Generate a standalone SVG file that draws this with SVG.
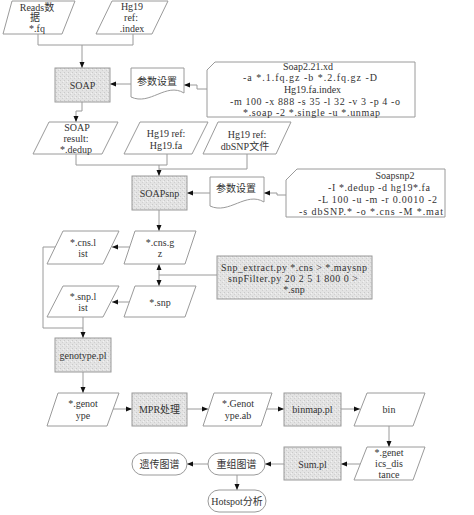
<svg xmlns="http://www.w3.org/2000/svg" width="474" height="515" viewBox="0 0 474 515">
<defs>
<style>
.s{fill:#fff;stroke:#9a9a9a;stroke-width:1}
.g{fill:url(#stip);stroke:#9a9a9a;stroke-width:1}
.c{fill:none;stroke:#9a9a9a;stroke-width:1}
.a{marker-end:url(#ah)}
text{font-family:"Liberation Serif","Noto Sans CJK SC",serif;font-size:10px;fill:#333;text-anchor:middle}
</style>
<pattern id="stip" width="4" height="4" patternUnits="userSpaceOnUse">
<rect width="4" height="4" fill="#e3e3e3"/>
<rect x="0" y="0" width="1" height="1" fill="#c9c9c9"/>
<rect x="2" y="2" width="1" height="1" fill="#cfcfcf"/>
<rect x="3" y="1" width="1" height="1" fill="#f2f2f2"/>
</pattern>
<marker id="ah" markerUnits="userSpaceOnUse" markerWidth="6" markerHeight="6" viewBox="0 0 6 6" refX="6" refY="3" orient="auto">
<path d="M0,0.5 L6,3 L0,5.5 Z" fill="#111"/>
</marker>
</defs>
<rect width="474" height="515" fill="#fff"/>

<g id="connectors">
<path class="c" d="M38,34 V45 H133 V34"/>
<path class="c a" d="M82,45 V68"/>
<path class="c a" d="M131,84 H110"/>
<path class="c a" d="M208,89 H197 V85 H184"/>
<path class="c a" d="M82,102 V111 H76 V122"/>
<path class="c" d="M76,154 V165 H167 V154"/>
<path class="c a" d="M159,165 V176"/>
<path class="c" d="M247,154 V169 H159"/>
<path class="c a" d="M210,193 H187"/>
<path class="c a" d="M286,195 H277 V193 H264"/>
<path class="c a" d="M159,210 V231"/>
<path class="c a" d="M130,247 H112"/>
<path class="c" d="M55,247 H43 V328 H83"/>
<path class="c a" d="M83,317 V338"/>
<path class="c" d="M217,275 H159"/>
<path class="c a" d="M159,275 V264"/>
<path class="c a" d="M159,275 V286"/>
<path class="c a" d="M129,302 H112"/>
<path class="c a" d="M83,372 V393"/>
<path class="c a" d="M113,409 H132"/>
<path class="c a" d="M187,409 H208"/>
<path class="c a" d="M267,409 H284"/>
<path class="c a" d="M341,409 H360"/>
<path class="c a" d="M389,426 V447"/>
<path class="c a" d="M360,464 H341"/>
<path class="c a" d="M284,464 H265"/>
<path class="c a" d="M208,464 H187"/>
<path class="c a" d="M237,475 V490"/>
</g>

<g id="reads">
<polygon class="s" points="12,1 75,1 62,34 3,34"/>
<text x="37" y="10.5">Reads数</text>
<text x="35" y="20.5">据</text>
<text x="37" y="32">*.fq</text>
</g>
<g id="hg19index">
<polygon class="s" points="112,1 168,1 152,34 96,34"/>
<text x="132" y="9.5">Hg19</text>
<text x="131" y="20.5">ref:</text>
<text x="132" y="32">.index</text>
</g>
<g id="soap">
<rect class="g" x="55" y="68" width="55" height="34"/>
<text x="82.5" y="88.5">SOAP</text>
</g>
<g id="param1">
<path class="s" d="M131,68 H184 V93 C166,82 150,106 131,97 Z"/>
<text x="157" y="84.5">参数设置</text>
</g>
<g id="soapcmd">
<path class="s" d="M215,62 H415 V117 H207 V70 Z"/>
<text x="308" y="69.5">Soap2.21.xd</text>
<text x="310" y="81" textLength="134" lengthAdjust="spacing">-a *.1.fq.gz -b *.2.fq.gz -D</text>
<text x="312.5" y="92.5">Hg19.fa.index</text>
<text x="315" y="104.5" textLength="170" lengthAdjust="spacing">-m 100 -x 888 -s 35 -l 32 -v 3 -p 4 -o</text>
<text x="311.5" y="115.5" textLength="137" lengthAdjust="spacing">*.soap -2 *.single -u *.unmap</text>
</g>
<g id="soapresult">
<polygon class="s" points="49,122 118,122 102,154 33,154"/>
<text x="77" y="130.5">SOAP</text>
<text x="76" y="141.5">result:</text>
<text x="76" y="153">*.dedup</text>
</g>
<g id="hg19fa">
<polygon class="s" points="140,122 208,122 192,154 124,154"/>
<text x="166" y="136.5">Hg19 ref:</text>
<text x="166" y="148.5">Hg19.fa</text>
</g>
<g id="dbsnp">
<polygon class="s" points="218,122 291,122 276,154 203,154"/>
<text x="247" y="137.5">Hg19 ref:</text>
<text x="245" y="149.5">dbSNP文件</text>
</g>
<g id="soapsnp">
<rect class="g" x="132" y="176" width="55" height="34"/>
<text x="159.5" y="196.5">SOAPsnp</text>
</g>
<g id="param2">
<path class="s" d="M210,177 H264 V202 C246,191 229,215 210,206 Z"/>
<text x="236" y="192">参数设置</text>
</g>
<g id="soapsnpcmd">
<path class="s" d="M297,169 H445 V217 H286 V180 Z"/>
<text x="395" y="178.5">Soapsnp2</text>
<text x="379" y="190.5" textLength="102" lengthAdjust="spacing">-I *.dedup -d hg19*.fa</text>
<text x="377.5" y="202.5" textLength="119" lengthAdjust="spacing">-L 100 -u -m -r 0.0010 -2</text>
<text x="371" y="214.5" textLength="144" lengthAdjust="spacing">-s dbSNP.* -o *.cns -M *.mat</text>
</g>
<g id="cnsgz">
<polygon class="s" points="135,231 196,231 185,264 124,264"/>
<text x="160" y="245.5">*.cns.g</text>
<text x="160" y="256.5">z</text>
</g>
<g id="cnslist">
<polygon class="s" points="63,231 119,231 103,264 47,264"/>
<text x="83" y="245.5">*.cns.l</text>
<text x="83" y="256.5">ist</text>
</g>
<g id="snp">
<polygon class="s" points="135,286 196,286 185,317 124,317"/>
<text x="160" y="305.5">*.snp</text>
</g>
<g id="snplist">
<polygon class="s" points="63,286 119,286 103,317 47,317"/>
<text x="83" y="299.5">*.snp.l</text>
<text x="83" y="310.5">ist</text>
</g>
<g id="snpextract">
<rect class="g" x="217" y="256" width="155" height="43"/>
<text x="294" y="270.5" textLength="146" lengthAdjust="spacing">Snp_extract.py *.cns &gt; *.maysnp</text>
<text x="293" y="281.5" textLength="130" lengthAdjust="spacing">snpFilter.py 20 2 5 1 800 0 &gt;</text>
<text x="294" y="292.5">*.snp</text>
</g>
<g id="genotypepl">
<rect class="g" x="55" y="338" width="56" height="34"/>
<text x="83" y="358.5">genotype.pl</text>
</g>
<g id="genotype">
<polygon class="s" points="58,393 119,393 107,426 47,426"/>
<text x="83" y="406.5">*.genot</text>
<text x="83" y="418.5">ype</text>
</g>
<g id="mpr">
<rect class="g" x="132" y="393" width="55" height="33"/>
<text x="159.5" y="412.5">MPR处理</text>
</g>
<g id="genotypeab">
<polygon class="s" points="214,393 272,393 261,426 203,426"/>
<text x="238" y="406.5">*.Genot</text>
<text x="238" y="418.5">ype.ab</text>
</g>
<g id="binmap">
<rect class="g" x="284" y="393" width="57" height="33"/>
<text x="312.5" y="412.5">binmap.pl</text>
</g>
<g id="bin">
<polygon class="s" points="367,393 425,393 413,426 354,426"/>
<text x="389" y="412.5">bin</text>
</g>
<g id="genetics">
<polygon class="s" points="367,447 425,447 413,480 354,480"/>
<text x="389" y="456">*.genet</text>
<text x="389" y="466.5">ics_dis</text>
<text x="389" y="478">tance</text>
</g>
<g id="sumpl">
<rect class="g" x="284" y="447" width="57" height="33"/>
<text x="312.5" y="467.5">Sum.pl</text>
</g>
<g id="recomb">
<rect class="s" x="208" y="453" width="57" height="22" rx="11"/>
<text x="236.5" y="467.5">重组图谱</text>
</g>
<g id="genmap">
<rect class="s" x="132" y="453" width="55" height="22" rx="11"/>
<text x="159.5" y="467.5">遗传图谱</text>
</g>
<g id="hotspot">
<rect class="s" x="208" y="490" width="58" height="22" rx="11"/>
<text x="237" y="504.5">Hotspot分析</text>
</g>
</svg>
